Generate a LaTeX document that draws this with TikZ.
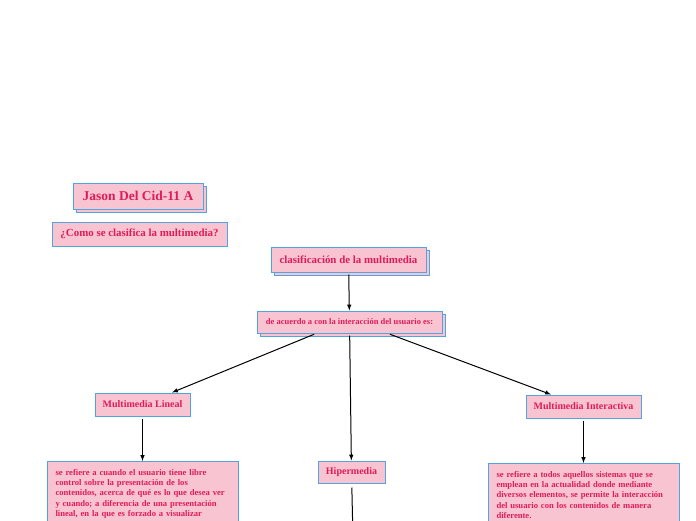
\documentclass[tikz,border=0pt]{standalone}
\usepackage{fontspec}
\setmainfont{Liberation Serif}
\usetikzlibrary{shadows}
\definecolor{boxpink}{RGB}{249,196,210}
\definecolor{boxblue}{RGB}{80,165,225}
\definecolor{txtred}{RGB}{222,28,92}
\tikzset{
  topic/.style={draw=boxblue, fill=boxpink, text=txtred, line width=1pt, inner sep=0pt,
    font=\bfseries},
  shadowtopic/.style={topic, copy shadow={shadow xshift=3pt, shadow yshift=-3pt}},
  notebox/.style={topic, anchor=north west, align=left, text width=175pt, inner xsep=8pt,
    inner ysep=8pt, text depth=70pt,
    font=\bfseries\fontsize{8.6}{10.2}\selectfont},
  link/.style={-latex, line width=1pt, shorten <=2pt}
}
\begin{document}
\begin{tikzpicture}[x=1pt,y=-1pt]
  \useasboundingbox (0,0) rectangle (696,520);
  \clip (0,0) rectangle (696,520);
  % title and question
  \node (author) at (138,196) [shadowtopic, minimum width=130pt, minimum height=26pt,
    font=\bfseries\fontsize{13.5}{15}\selectfont] {Jason Del Cid-11 A};
  \node (question) at (139.5,234) [topic, minimum width=175pt, minimum height=24pt,
    font=\bfseries\fontsize{10.9}{12}\selectfont] {¿Como se clasifica la multimedia?};
  % main tree
  \node (clasif) at (348.5,259.5) [shadowtopic, minimum width=155pt, minimum height=25pt,
    font=\bfseries\fontsize{10.9}{12}\selectfont] {clasificación de la multimedia};
  \node (acuerdo) at (349.5,322) [shadowtopic, minimum width=185pt, minimum height=22pt,
    font=\bfseries\fontsize{8.5}{10}\selectfont] {de acuerdo a con la interacción del usuario es:};
  \node (lineal) at (142.5,404.5) [topic, minimum width=95pt, minimum height=23pt,
    font=\bfseries\fontsize{10}{12}\selectfont] {Multimedia Lineal};
  \node (hiper) at (351.5,472) [topic, minimum width=67pt, minimum height=22pt,
    font=\bfseries\fontsize{10}{12}\selectfont] {Hipermedia};
  \node (interact) at (583.5,406.5) [topic, minimum width=115pt, minimum height=23pt,
    font=\bfseries\fontsize{10}{12}\selectfont] {Multimedia Interactiva};
  % descriptions
  \node (linealtxt) at (47,461) [notebox] {se refiere a cuando el usuario tiene libre\\
    control sobre la presentación de los\\
    contenidos, acerca de qué es lo que desea ver\\
    y cuando; a diferencia de una presentación\\
    lineal, en la que es forzado a visualizar};
  \node (interacttxt) at (488,463) [notebox] {se refiere a todos aquellos sistemas que se\\
    emplean en la actualidad donde mediante\\
    diversos elementos, se permite la interacción\\
    del usuario con los contenidos de manera\\
    diferente.};
  \coordinate (hipernext) at (353,540);
  % connectors
  \draw [link] (clasif) -- (acuerdo);
  \draw [link] ([xshift=-33.5pt]acuerdo.south) -- ([xshift=29.5pt]lineal.north);
  \draw [link] (acuerdo) -- (hiper);
  \draw [link] ([xshift=38.5pt]acuerdo.south) -- ([xshift=-32.5pt]interact.north);
  \draw [link] (lineal) -- (lineal |- linealtxt.north);
  \draw [link] (interact) -- (interact |- interacttxt.north);
  \draw [link, shorten <=4pt] (hiper) -- (hipernext);
\end{tikzpicture}
\end{document}
